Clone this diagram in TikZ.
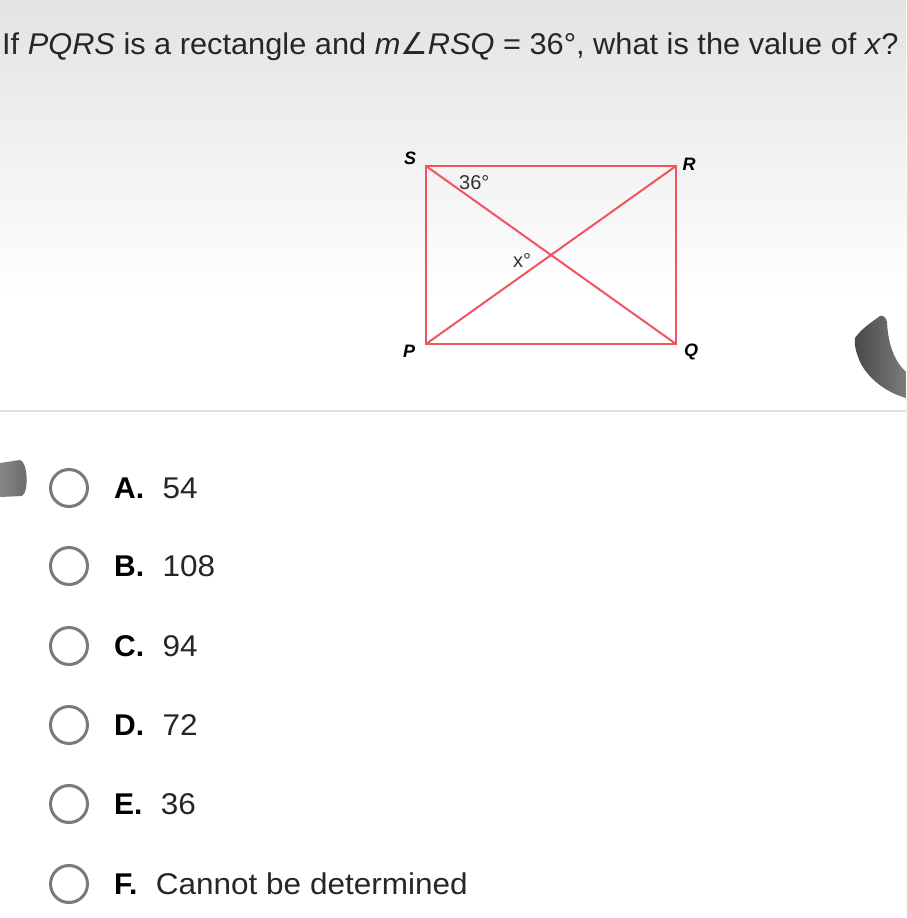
\documentclass[tikz,border=0pt]{standalone}
\usepackage{fontspec}
\usetikzlibrary{calc}
\setmainfont{Liberation Sans}
\newfontfamily\djv{DejaVu Sans}
\definecolor{rectred}{HTML}{F0555F}
\definecolor{ringgray}{HTML}{7A7A7A}
\definecolor{smudge}{HTML}{505050}
\begin{document}
\begin{tikzpicture}[x=1pt,y=-1pt,
  rectline/.style={draw=rectred,line width=2pt},
  vlab/.style={font=\fontsize{18}{18}\selectfont\bfseries\itshape,inner sep=0pt},
  anglab/.style={font=\fontsize{20}{20}\selectfont,inner sep=0pt,text=black!80},
  ring/.style={circle,draw=ringgray,line width=3pt,minimum size=37pt,inner sep=0pt},
  optlet/.style={anchor=base west,inner sep=0pt,font=\fontsize{30}{30}\selectfont\bfseries},
  opttxt/.style={anchor=base west,inner sep=0pt,font=\fontsize{30}{30}\selectfont,text=black!85},
  title/.style={anchor=base west,inner sep=0pt,font=\fontsize{30}{30}\selectfont,text=black!85}]
\useasboundingbox (0,0) rectangle (906,918);
\fill[white] (0,0) rectangle (906,918);
\shade[top color=gray!22, bottom color=white] (0,0) rectangle (906,300);
% title
\node[title] (title) at (2,54) {\scalebox{1.025}[1]{If \textit{PQRS} is a rectangle and \textit{m}{\djv ∠}\textit{RSQ} = 36°, what is the value of \textit{x}?}};
% rectangle
\coordinate (S) at (426,166);
\coordinate (R) at (676,166);
\coordinate (P) at (426,344);
\coordinate (Q) at (676,344);
\draw[rectline] (S) rectangle (Q);
\draw[rectline] (S) -- (Q);
\draw[rectline] (P) -- (R);
\node[vlab] (lS) at (410,158) {S};
\node[vlab] (lR) at (689,164) {R};
\node[vlab] (lP) at (409,351) {P};
\node[vlab] (lQ) at (691,352) {Q};
\node[anchor=base west,anglab] (a36) at (459,189) {36°};
\node[anchor=base west,anglab] (ax) at (513,267) {x°};
% separator
\draw[gray!25,line width=1.2pt] (0,411) -- (906,411);
% smudges
\shade[left color=smudge!90!black, right color=smudge!75] (855,338) .. controls (862,328) and (872,322) .. (880,316)
  .. controls (884,315) and (886,318) .. (887,322)
  .. controls (888,345) and (895,362) .. (906,372)
  -- (906,398) .. controls (885,392) and (868,378) .. (860,362)
  .. controls (856,352) and (854,345) .. (855,338) -- cycle;
\shade[left color=smudge!70, right color=smudge!85] (0,463) -- (20,460) .. controls (28,462) and (29,492) .. (22,496) -- (0,497) -- cycle;
% options
\foreach \y/\l/\t in {488/A/54, 566/B/108, 646/C/94, 725/D/72, 804/E/36, 884/F/Cannot be determined} {
  \node[ring] (c\l) at (69,\y) {};
  \node[optlet] (l\l) at (114,\y+10) {\l.};
  \node[opttxt] (t\l) at ($(l\l.base east)+(18,0)$) {\scalebox{1.05}[1]{\t}};
}
\end{tikzpicture}
\end{document}
